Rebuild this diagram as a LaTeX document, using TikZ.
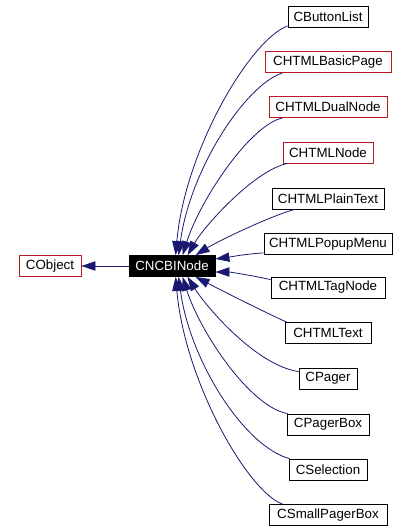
\documentclass[tikz,border=0pt]{standalone}
\usepackage{fontspec}
\setmainfont{Liberation Sans}
\usetikzlibrary{arrows.meta,calc}
\definecolor{edgeblue}{HTML}{191970}
\definecolor{boxred}{RGB}{185,25,35}
\begin{document}
\begin{tikzpicture}[x=0.75pt,y=-0.75pt,
  cls/.style={draw=black,line width=0.6pt,inner sep=0pt,minimum height=15.75pt,
    font=\fontsize{10pt}{12pt}\selectfont,text=black},
  redcls/.style={cls,draw=boxred},
  maincls/.style={cls,fill=black,text=white},
  edge/.style={draw=edgeblue,line width=0.6pt,
    -{Triangle[length=10.5pt,width=7pt,fill=edgeblue]}}]
\useasboundingbox (0,0) rectangle (409,532);
\node[redcls,minimum width=46.5pt] (cobj) at (50,266) {CObject};
\node[maincls,minimum width=64.5pt] (ncbi) at (172,266) {CNCBINode};
\node[cls,minimum width=60pt] (cbl) at (328,16.5) {CButtonList};
\node[redcls,minimum width=94.5pt] (basic) at (328,62) {CHTMLBasicPage};
\node[redcls,minimum width=88.5pt] (dual) at (328,107) {CHTMLDualNode};
\node[redcls,minimum width=67.5pt] (hnode) at (328,152.5) {CHTMLNode};
\node[cls,minimum width=84pt] (plain) at (328,198.5) {CHTMLPlainText};
\node[cls,minimum width=96pt] (popup) at (328,244) {CHTMLPopupMenu};
\node[cls,minimum width=85.5pt] (tag) at (328,287.5) {CHTMLTagNode};
\node[cls,minimum width=64.5pt] (htext) at (328,333) {CHTMLText};
\node[cls,minimum width=43.5pt] (pager) at (328,378.5) {CPager};
\node[cls,minimum width=61.5pt] (pbox) at (328,424.5) {CPagerBox};
\node[cls,minimum width=58.5pt] (sel) at (328,469.5) {CSelection};
\node[cls,minimum width=88.5pt] (spb) at (328,515) {CSmallPagerBox};
% edges
\draw[edge] (ncbi.west) -- (cobj.east);
\draw[edge] ($(cbl.south west)+(0,-1.5)$) .. controls (250,40) and (185,150) .. ($(ncbi.north west)+(47,0)$);
\draw[edge] ($(basic.south west)+(18,0)$) .. controls (245,85) and (190,170) .. ($(ncbi.north west)+(50,0)$);
\draw[edge] ($(dual.south west)+(14,0)$) .. controls (250,125) and (200,200) .. ($(ncbi.north west)+(54,0)$);
\draw[edge] ($(hnode.south west)+(5,0)$) .. controls (255,170) and (205,225) .. ($(ncbi.north west)+(59,0)$);
\draw[edge] ($(plain.south west)+(23,0)$) .. controls (265,218) and (215,243) .. ($(ncbi.north west)+(67,0)$);
\draw[edge] ($(popup.south west)+(0,-2)$) .. controls (245,254) and (230,257) .. ($(ncbi.east)+(0,-7)$);
\draw[edge] ($(tag.north west)+(0,3)$) .. controls (255,276) and (230,272) .. ($(ncbi.east)+(0,6)$);
\draw[edge] ($(htext.north west)+(2,0)$) .. controls (260,310) and (215,287) .. ($(ncbi.south west)+(67,0)$);
\draw[edge] ($(pager.north west)+(0,4)$) .. controls (255,365) and (205,305) .. ($(ncbi.south west)+(59,0)$);
\draw[edge] ($(pbox.north west)+(1,0)$) .. controls (250,407) and (200,332) .. ($(ncbi.south west)+(54,0)$);
\draw[edge] ($(sel.north west)+(1,0)$) .. controls (245,447) and (190,362) .. ($(ncbi.south west)+(50,0)$);
\draw[edge] ($(spb.north west)+(14,0)$) .. controls (248,492) and (185,382) .. ($(ncbi.south west)+(47,0)$);
\end{tikzpicture}
\end{document}
